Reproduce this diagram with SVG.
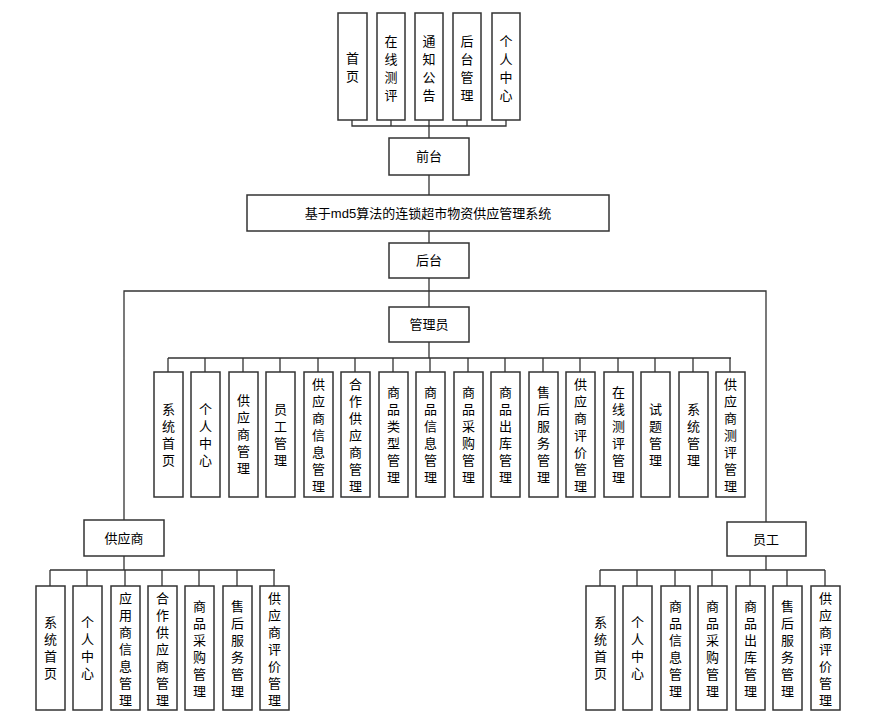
<svg xmlns="http://www.w3.org/2000/svg" width="870" height="725" viewBox="0 0 870 725">
<style>
rect{fill:#fff;stroke:#333;stroke-width:1.5}
text{font-family:"Liberation Sans","Noto Sans CJK SC",sans-serif;font-size:13px;fill:#000;text-anchor:middle}
.c{fill:none;stroke:#333;stroke-width:1.3}
</style>
<g id="connectors" class="c">
<path class="c" d="M352 120V126H506V120M391 120V126M429 120V138M467 120V126M429 175V195M429 231V243M429 278V307M124 520V291H766V522M429 342V358M168 358H731M168 358V372M205 358V372M243 358V372M280 358V372M318 358V372M355 358V372M393 358V372M430 358V372M468 358V372M505 358V372M543 358V372M580 358V372M618 358V372M655 358V372M693 358V372M730 358V372"/>
<path class="c" d="M124 556V570M50 570H275M50 570V586M87 570V586M125 570V586M162 570V586M199 570V586M237 570V586M274 570V586"/>
<path class="c" d="M766 556V570M600 570H825M600 570V586M637 570V586M675 570V586M712 570V586M750 570V586M787 570V586M825 570V586"/>
</g>
<g id="n-shouye"><rect x="338" y="13" width="29" height="107"/><text x="352.5"><tspan x="352.5" y="63">首</tspan><tspan x="352.5" dy="18">页</tspan></text></g>
<g id="n-zaixian"><rect x="377" y="13" width="28" height="107"/><text><tspan x="391" y="46">在</tspan><tspan x="391" dy="18">线</tspan><tspan x="391" dy="18">测</tspan><tspan x="391" dy="18">评</tspan></text></g>
<g id="n-tongzhi"><rect x="415" y="13" width="28" height="107"/><text><tspan x="429" y="46">通</tspan><tspan x="429" dy="18">知</tspan><tspan x="429" dy="18">公</tspan><tspan x="429" dy="18">告</tspan></text></g>
<g id="n-houtaigl"><rect x="453" y="13" width="28" height="107"/><text><tspan x="467" y="46">后</tspan><tspan x="467" dy="18">台</tspan><tspan x="467" dy="18">管</tspan><tspan x="467" dy="18">理</tspan></text></g>
<g id="n-geren"><rect x="492" y="13" width="28" height="107"/><text><tspan x="506" y="46">个</tspan><tspan x="506" dy="18">人</tspan><tspan x="506" dy="18">中</tspan><tspan x="506" dy="18">心</tspan></text></g>
<g id="n-qiantai"><rect x="389" y="138" width="80" height="37"/><text x="429" y="161">前台</text></g>
<g id="n-title"><rect x="247" y="195" width="362" height="36"/><text x="428" y="218">基于md5算法的连锁超市物资供应管理系统</text></g>
<g id="n-houtai"><rect x="389" y="243" width="80" height="35"/><text x="429" y="265">后台</text></g>
<g id="n-admin"><rect x="389" y="307" width="80" height="35"/><text x="429" y="329">管理员</text></g>
<g id="n-supplier"><rect x="84" y="520" width="80" height="36"/><text x="124" y="543">供应商</text></g>
<g id="n-staff"><rect x="727" y="522" width="79" height="34"/><text x="766" y="544">员工</text></g>
<g id="admin-items">
<g><rect x="154" y="372" width="29" height="125"/><text><tspan x="168.5" y="414">系</tspan><tspan x="168.5" dy="17">统</tspan><tspan x="168.5" dy="17">首</tspan><tspan x="168.5" dy="17">页</tspan></text></g>
<g><rect x="191" y="372" width="29" height="125"/><text><tspan x="205.5" y="414">个</tspan><tspan x="205.5" dy="17">人</tspan><tspan x="205.5" dy="17">中</tspan><tspan x="205.5" dy="17">心</tspan></text></g>
<g><rect x="229" y="372" width="29" height="125"/><text><tspan x="243.5" y="405">供</tspan><tspan x="243.5" dy="17">应</tspan><tspan x="243.5" dy="17">商</tspan><tspan x="243.5" dy="17">管</tspan><tspan x="243.5" dy="17">理</tspan></text></g>
<g><rect x="266" y="372" width="29" height="125"/><text><tspan x="280.5" y="414">员</tspan><tspan x="280.5" dy="17">工</tspan><tspan x="280.5" dy="17">管</tspan><tspan x="280.5" dy="17">理</tspan></text></g>
<g><rect x="304" y="372" width="29" height="125"/><text><tspan x="318.5" y="389">供</tspan><tspan x="318.5" dy="17">应</tspan><tspan x="318.5" dy="17">商</tspan><tspan x="318.5" dy="17">信</tspan><tspan x="318.5" dy="17">息</tspan><tspan x="318.5" dy="17">管</tspan><tspan x="318.5" dy="17">理</tspan></text></g>
<g><rect x="341" y="372" width="29" height="125"/><text><tspan x="355.5" y="389">合</tspan><tspan x="355.5" dy="17">作</tspan><tspan x="355.5" dy="17">供</tspan><tspan x="355.5" dy="17">应</tspan><tspan x="355.5" dy="17">商</tspan><tspan x="355.5" dy="17">管</tspan><tspan x="355.5" dy="17">理</tspan></text></g>
<g><rect x="379" y="372" width="29" height="125"/><text><tspan x="393.5" y="397">商</tspan><tspan x="393.5" dy="17">品</tspan><tspan x="393.5" dy="17">类</tspan><tspan x="393.5" dy="17">型</tspan><tspan x="393.5" dy="17">管</tspan><tspan x="393.5" dy="17">理</tspan></text></g>
<g><rect x="416" y="372" width="29" height="125"/><text><tspan x="430.5" y="397">商</tspan><tspan x="430.5" dy="17">品</tspan><tspan x="430.5" dy="17">信</tspan><tspan x="430.5" dy="17">息</tspan><tspan x="430.5" dy="17">管</tspan><tspan x="430.5" dy="17">理</tspan></text></g>
<g><rect x="454" y="372" width="29" height="125"/><text><tspan x="468.5" y="397">商</tspan><tspan x="468.5" dy="17">品</tspan><tspan x="468.5" dy="17">采</tspan><tspan x="468.5" dy="17">购</tspan><tspan x="468.5" dy="17">管</tspan><tspan x="468.5" dy="17">理</tspan></text></g>
<g><rect x="491" y="372" width="29" height="125"/><text><tspan x="505.5" y="397">商</tspan><tspan x="505.5" dy="17">品</tspan><tspan x="505.5" dy="17">出</tspan><tspan x="505.5" dy="17">库</tspan><tspan x="505.5" dy="17">管</tspan><tspan x="505.5" dy="17">理</tspan></text></g>
<g><rect x="529" y="372" width="29" height="125"/><text><tspan x="543.5" y="397">售</tspan><tspan x="543.5" dy="17">后</tspan><tspan x="543.5" dy="17">服</tspan><tspan x="543.5" dy="17">务</tspan><tspan x="543.5" dy="17">管</tspan><tspan x="543.5" dy="17">理</tspan></text></g>
<g><rect x="566" y="372" width="29" height="125"/><text><tspan x="580.5" y="389">供</tspan><tspan x="580.5" dy="17">应</tspan><tspan x="580.5" dy="17">商</tspan><tspan x="580.5" dy="17">评</tspan><tspan x="580.5" dy="17">价</tspan><tspan x="580.5" dy="17">管</tspan><tspan x="580.5" dy="17">理</tspan></text></g>
<g><rect x="604" y="372" width="29" height="125"/><text><tspan x="618.5" y="397">在</tspan><tspan x="618.5" dy="17">线</tspan><tspan x="618.5" dy="17">测</tspan><tspan x="618.5" dy="17">评</tspan><tspan x="618.5" dy="17">管</tspan><tspan x="618.5" dy="17">理</tspan></text></g>
<g><rect x="641" y="372" width="29" height="125"/><text><tspan x="655.5" y="414">试</tspan><tspan x="655.5" dy="17">题</tspan><tspan x="655.5" dy="17">管</tspan><tspan x="655.5" dy="17">理</tspan></text></g>
<g><rect x="679" y="372" width="29" height="125"/><text><tspan x="693.5" y="414">系</tspan><tspan x="693.5" dy="17">统</tspan><tspan x="693.5" dy="17">管</tspan><tspan x="693.5" dy="17">理</tspan></text></g>
<g><rect x="716" y="372" width="29" height="125"/><text><tspan x="730.5" y="389">供</tspan><tspan x="730.5" dy="17">应</tspan><tspan x="730.5" dy="17">商</tspan><tspan x="730.5" dy="17">测</tspan><tspan x="730.5" dy="17">评</tspan><tspan x="730.5" dy="17">管</tspan><tspan x="730.5" dy="17">理</tspan></text></g>
</g>
<g id="supplier-items">
<g><rect x="36" y="586" width="29" height="124"/><text><tspan x="50.5" y="627">系</tspan><tspan x="50.5" dy="17">统</tspan><tspan x="50.5" dy="17">首</tspan><tspan x="50.5" dy="17">页</tspan></text></g>
<g><rect x="73" y="586" width="29" height="124"/><text><tspan x="87.5" y="627">个</tspan><tspan x="87.5" dy="17">人</tspan><tspan x="87.5" dy="17">中</tspan><tspan x="87.5" dy="17">心</tspan></text></g>
<g><rect x="111" y="586" width="29" height="124"/><text><tspan x="125.5" y="603">应</tspan><tspan x="125.5" dy="17">用</tspan><tspan x="125.5" dy="17">商</tspan><tspan x="125.5" dy="17">信</tspan><tspan x="125.5" dy="17">息</tspan><tspan x="125.5" dy="17">管</tspan><tspan x="125.5" dy="17">理</tspan></text></g>
<g><rect x="148" y="586" width="29" height="124"/><text><tspan x="162.5" y="603">合</tspan><tspan x="162.5" dy="17">作</tspan><tspan x="162.5" dy="17">供</tspan><tspan x="162.5" dy="17">应</tspan><tspan x="162.5" dy="17">商</tspan><tspan x="162.5" dy="17">管</tspan><tspan x="162.5" dy="17">理</tspan></text></g>
<g><rect x="185" y="586" width="29" height="124"/><text><tspan x="199.5" y="611">商</tspan><tspan x="199.5" dy="17">品</tspan><tspan x="199.5" dy="17">采</tspan><tspan x="199.5" dy="17">购</tspan><tspan x="199.5" dy="17">管</tspan><tspan x="199.5" dy="17">理</tspan></text></g>
<g><rect x="223" y="586" width="29" height="124"/><text><tspan x="237.5" y="611">售</tspan><tspan x="237.5" dy="17">后</tspan><tspan x="237.5" dy="17">服</tspan><tspan x="237.5" dy="17">务</tspan><tspan x="237.5" dy="17">管</tspan><tspan x="237.5" dy="17">理</tspan></text></g>
<g><rect x="260" y="586" width="29" height="124"/><text><tspan x="274.5" y="603">供</tspan><tspan x="274.5" dy="17">应</tspan><tspan x="274.5" dy="17">商</tspan><tspan x="274.5" dy="17">评</tspan><tspan x="274.5" dy="17">价</tspan><tspan x="274.5" dy="17">管</tspan><tspan x="274.5" dy="17">理</tspan></text></g>
</g>
<g id="staff-items">
<g><rect x="586" y="586" width="29" height="124"/><text><tspan x="600.5" y="627">系</tspan><tspan x="600.5" dy="17">统</tspan><tspan x="600.5" dy="17">首</tspan><tspan x="600.5" dy="17">页</tspan></text></g>
<g><rect x="623" y="586" width="29" height="124"/><text><tspan x="637.5" y="627">个</tspan><tspan x="637.5" dy="17">人</tspan><tspan x="637.5" dy="17">中</tspan><tspan x="637.5" dy="17">心</tspan></text></g>
<g><rect x="661" y="586" width="29" height="124"/><text><tspan x="675.5" y="611">商</tspan><tspan x="675.5" dy="17">品</tspan><tspan x="675.5" dy="17">信</tspan><tspan x="675.5" dy="17">息</tspan><tspan x="675.5" dy="17">管</tspan><tspan x="675.5" dy="17">理</tspan></text></g>
<g><rect x="698" y="586" width="29" height="124"/><text><tspan x="712.5" y="611">商</tspan><tspan x="712.5" dy="17">品</tspan><tspan x="712.5" dy="17">采</tspan><tspan x="712.5" dy="17">购</tspan><tspan x="712.5" dy="17">管</tspan><tspan x="712.5" dy="17">理</tspan></text></g>
<g><rect x="736" y="586" width="29" height="124"/><text><tspan x="750.5" y="611">商</tspan><tspan x="750.5" dy="17">品</tspan><tspan x="750.5" dy="17">出</tspan><tspan x="750.5" dy="17">库</tspan><tspan x="750.5" dy="17">管</tspan><tspan x="750.5" dy="17">理</tspan></text></g>
<g><rect x="773" y="586" width="29" height="124"/><text><tspan x="787.5" y="611">售</tspan><tspan x="787.5" dy="17">后</tspan><tspan x="787.5" dy="17">服</tspan><tspan x="787.5" dy="17">务</tspan><tspan x="787.5" dy="17">管</tspan><tspan x="787.5" dy="17">理</tspan></text></g>
<g><rect x="811" y="586" width="29" height="124"/><text><tspan x="825.5" y="603">供</tspan><tspan x="825.5" dy="17">应</tspan><tspan x="825.5" dy="17">商</tspan><tspan x="825.5" dy="17">评</tspan><tspan x="825.5" dy="17">价</tspan><tspan x="825.5" dy="17">管</tspan><tspan x="825.5" dy="17">理</tspan></text></g>
</g>
</svg>
